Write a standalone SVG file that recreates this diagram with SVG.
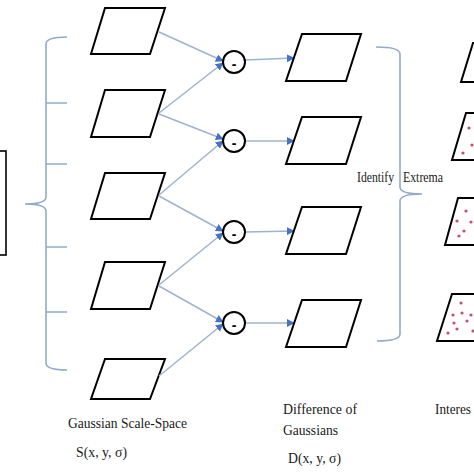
<svg xmlns="http://www.w3.org/2000/svg" width="474" height="474" viewBox="0 0 474 474">
<defs>
<style>
.pg{fill:#fff;stroke:#000;stroke-width:2}
.op{fill:#fff;stroke:#000;stroke-width:2}
.con{fill:none;stroke:#9fb3cd;stroke-width:1.5}
.br{fill:none;stroke:#93abc9;stroke-width:1.6}
.dot{fill:#c2506e}
text{font-family:"Liberation Serif","Times New Roman",serif;fill:#1a1a1a}
.lbl{font-size:15.5px}
.sm{font-size:14.5px}
.ms{font-family:"Liberation Sans",Arial,sans-serif;font-size:14px;font-weight:bold;fill:#000}
</style>
<marker id="ah" viewBox="0 0 10 10" refX="9" refY="5" markerWidth="8" markerHeight="8" markerUnits="userSpaceOnUse" orient="auto">
<path d="M0,0 L10,5 L0,10 z" fill="#4472c4"/>
</marker>
</defs>
<rect width="474" height="474" fill="#fff"/>

<g id="input"><rect x="-10" y="151" width="16" height="104" fill="#fff" stroke="#000" stroke-width="1.6"/></g>

<g id="braces">
<path class="br" d="M67,37 Q46,37 46,44 L46,197 Q46,204 25,204 Q46,204 46,211 L46,363 Q46,370 67,370"/>
<path class="br" d="M46,103 H67 M46,164 H67 M46,247 H67 M46,312 H67"/>
<path class="br" d="M376,47 Q400,47 400,54 L400,187 Q400,194 422,194 Q400,194 400,201 L400,334 Q400,341 377,341"/>
</g>

<g id="gauss1"><polygon class="pg" points="105,8 165,8 150,54 91,54"/></g>
<g id="gauss2"><polygon class="pg" points="105,90 165,90 150,137 91,137"/></g>
<g id="gauss3"><polygon class="pg" points="105,173 165,173 150,219 91,219"/></g>
<g id="gauss4"><polygon class="pg" points="105,262 165,262 150,309 91,309"/></g>
<g id="gauss5"><polygon class="pg" points="105,359 165,359 150,399 91,399"/></g>

<g id="connectors">
<line class="con" x1="159" y1="32" x2="223" y2="61" marker-end="url(#ah)"/>
<line class="con" x1="159" y1="113" x2="223" y2="63" marker-end="url(#ah)"/>
<line class="con" x1="159" y1="114" x2="223" y2="139" marker-end="url(#ah)"/>
<line class="con" x1="159" y1="195" x2="223" y2="141" marker-end="url(#ah)"/>
<line class="con" x1="159" y1="196" x2="223" y2="231" marker-end="url(#ah)"/>
<line class="con" x1="159" y1="285" x2="223" y2="233" marker-end="url(#ah)"/>
<line class="con" x1="159" y1="286" x2="223" y2="322" marker-end="url(#ah)"/>
<line class="con" x1="159" y1="376" x2="223" y2="324" marker-end="url(#ah)"/>
<line class="con" x1="245" y1="60" x2="294" y2="58" marker-end="url(#ah)"/>
<line class="con" x1="245" y1="141" x2="294" y2="141" marker-end="url(#ah)"/>
<line class="con" x1="245" y1="232" x2="294" y2="231" marker-end="url(#ah)"/>
<line class="con" x1="245" y1="323" x2="294" y2="323" marker-end="url(#ah)"/>
</g>

<g id="sub1"><circle class="op" cx="234" cy="62" r="11"/><text class="ms" x="234" y="69" text-anchor="middle">-</text></g>
<g id="sub2"><circle class="op" cx="234" cy="141" r="11"/><text class="ms" x="234" y="148" text-anchor="middle">-</text></g>
<g id="sub3"><circle class="op" cx="234" cy="232" r="11"/><text class="ms" x="234" y="239" text-anchor="middle">-</text></g>
<g id="sub4"><circle class="op" cx="234" cy="323" r="11"/><text class="ms" x="234" y="330" text-anchor="middle">-</text></g>

<g id="dog1"><polygon class="pg" points="302,34 361,34 346,81 286,81"/></g>
<g id="dog2"><polygon class="pg" points="302,117 361,117 346,164 286,164"/></g>
<g id="dog3"><polygon class="pg" points="302,207 361,207 346,254 286,254"/></g>
<g id="dog4"><polygon class="pg" points="302,300 361,300 346,347 286,347"/></g>

<g id="kp1"><polygon class="pg" points="473,43 540,43 528,82 461,82"/></g>
<g id="kp2"><polygon class="pg" points="466,113 540,113 528,160 452,160"/>
<circle class="dot" cx="469" cy="128" r="1.6"/><circle class="dot" cx="472" cy="145" r="1.6"/><circle class="dot" cx="463" cy="153" r="1.6"/></g>
<g id="kp3"><polygon class="pg" points="458,198 540,198 528,245 445,245"/>
<circle class="dot" cx="466" cy="211" r="1.6"/><circle class="dot" cx="457" cy="221" r="1.6"/><circle class="dot" cx="471" cy="222" r="1.6"/><circle class="dot" cx="464" cy="231" r="1.6"/><circle class="dot" cx="459" cy="236" r="1.6"/></g>
<g id="kp4"><polygon class="pg" points="452,294 540,294 528,341 437,341"/>
<circle class="dot" cx="461" cy="303" r="1.6"/><circle class="dot" cx="453" cy="315" r="1.6"/><circle class="dot" cx="462" cy="313" r="1.6"/><circle class="dot" cx="471" cy="315" r="1.6"/><circle class="dot" cx="454" cy="323" r="1.6"/><circle class="dot" cx="467" cy="321" r="1.6"/><circle class="dot" cx="457" cy="329" r="1.6"/><circle class="dot" cx="448" cy="333" r="1.6"/><circle class="dot" cx="473" cy="331" r="1.6"/></g>

<g id="labels">
<text class="sm" x="357" y="182" textLength="37" lengthAdjust="spacingAndGlyphs">Identify</text>
<text class="sm" x="403" y="182" textLength="40" lengthAdjust="spacingAndGlyphs">Extrema</text>
<text class="lbl" x="68" y="428" textLength="119" lengthAdjust="spacingAndGlyphs">Gaussian Scale-Space</text>
<text class="sm" x="76" y="457" textLength="51" lengthAdjust="spacingAndGlyphs">S(x, y, σ)</text>
<text class="lbl" x="283" y="414" textLength="74" lengthAdjust="spacingAndGlyphs">Difference of</text>
<text class="lbl" x="283" y="435" textLength="55" lengthAdjust="spacingAndGlyphs">Gaussians</text>
<text class="sm" x="288" y="463" textLength="53" lengthAdjust="spacingAndGlyphs">D(x, y, σ)</text>
<text class="lbl" x="435" y="414" textLength="36" lengthAdjust="spacingAndGlyphs">Interes</text>
</g>
</svg>
